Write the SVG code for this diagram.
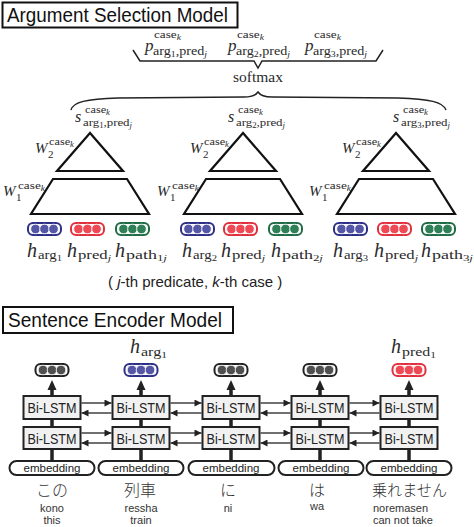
<svg xmlns="http://www.w3.org/2000/svg" xmlns:xlink="http://www.w3.org/1999/xlink" width="474" height="527" viewBox="0 0 474 527">
<style>
.bg{fill:#fff}
.tbox{fill:#fff;stroke:#111;stroke-width:2}
.title{font-family:"Liberation Sans",Arial,sans-serif;font-size:20px;fill:#111}
.sans{font-family:"Liberation Sans",Arial,sans-serif;fill:#222}
.bl{font-size:15.5px}
.m{font-family:"Liberation Serif","Times New Roman",serif;fill:#2a2a2a}
.mi{font-style:italic}
.tri{fill:none;stroke:#111;stroke-width:2.2;stroke-linejoin:miter}
.brace{fill:none;stroke:#222;stroke-width:1.5}
.vr{fill:#fff;stroke-width:2}
.vc{stroke:#fff;stroke-width:0.8}
.lstm{fill:#f1f1f1;stroke:#222;stroke-width:2}
.emb{fill:#fff;stroke:#222;stroke-width:2}
.vert{stroke:#222;stroke-width:3.5;fill:none}
.harr{stroke:#222;stroke-width:1.3;fill:none;marker-end:url(#ah)}
.jp{font-family:"Noto Sans CJK JP",sans-serif;font-size:16px;fill:#333;font-weight:300}
.rom{font-family:"Liberation Sans",Arial,sans-serif;font-size:11px;fill:#333}
</style>
<defs>
<marker id="ah" viewBox="0 0 10 10" refX="10" refY="5" markerUnits="userSpaceOnUse" markerWidth="8" markerHeight="7" orient="auto"><path d="M0,0 L10,5 L0,10 z" fill="#222"/></marker>
<g id="vecB"><rect class="vr" x="1" y="1" width="33" height="12" rx="5" stroke="#2d2f86"/><circle class="vc" cx="8.5" cy="7" r="4.8" fill="#5557a6"/><circle class="vc" cx="17.5" cy="7" r="4.8" fill="#5557a6"/><circle class="vc" cx="26.5" cy="7" r="4.8" fill="#5557a6"/></g>
<g id="vecR"><rect class="vr" x="1" y="1" width="33" height="12" rx="5" stroke="#e0303e"/><circle class="vc" cx="8.5" cy="7" r="4.8" fill="#ee4a56"/><circle class="vc" cx="17.5" cy="7" r="4.8" fill="#ee4a56"/><circle class="vc" cx="26.5" cy="7" r="4.8" fill="#ee4a56"/></g>
<g id="vecGr"><rect class="vr" x="1" y="1" width="33" height="12" rx="5" stroke="#1e6b45"/><circle class="vc" cx="8.5" cy="7" r="4.8" fill="#2f7f57"/><circle class="vc" cx="17.5" cy="7" r="4.8" fill="#2f7f57"/><circle class="vc" cx="26.5" cy="7" r="4.8" fill="#2f7f57"/></g>
<g id="vecK"><rect class="vr" x="1" y="1" width="33" height="12" rx="5" stroke="#222"/><circle class="vc" cx="8.5" cy="7" r="4.8" fill="#505050"/><circle class="vc" cx="17.5" cy="7" r="4.8" fill="#505050"/><circle class="vc" cx="26.5" cy="7" r="4.8" fill="#505050"/></g>
</defs>
<rect class="bg" x="0" y="0" width="474" height="527"/>

<!-- Argument Selection Model -->
<g id="title-asm">
<rect class="tbox" x="2.5" y="2.5" width="235" height="25"/>
<text class="title" x="7" y="22" textLength="221" lengthAdjust="spacingAndGlyphs">Argument Selection Model</text>
</g>

<g id="p-labels">
<text class="m mi" x="145" y="51" font-size="17">p</text>
<text class="m" x="154" y="38" font-size="11" textLength="27" lengthAdjust="spacingAndGlyphs">case<tspan class="mi" font-size="8" dy="2">k</tspan></text>
<text class="m" x="153" y="55" font-size="11.5" textLength="54" lengthAdjust="spacingAndGlyphs">arg<tspan font-size="8" dy="2">1</tspan><tspan dy="-2">,pred</tspan><tspan class="mi" font-size="8" dy="2">j</tspan></text>
<text class="m mi" x="228" y="51" font-size="17">p</text>
<text class="m" x="237" y="38" font-size="11" textLength="27" lengthAdjust="spacingAndGlyphs">case<tspan class="mi" font-size="8" dy="2">k</tspan></text>
<text class="m" x="236" y="55" font-size="11.5" textLength="54" lengthAdjust="spacingAndGlyphs">arg<tspan font-size="8" dy="2">2</tspan><tspan dy="-2">,pred</tspan><tspan class="mi" font-size="8" dy="2">j</tspan></text>
<text class="m mi" x="305" y="51" font-size="17">p</text>
<text class="m" x="314" y="38" font-size="11" textLength="27" lengthAdjust="spacingAndGlyphs">case<tspan class="mi" font-size="8" dy="2">k</tspan></text>
<text class="m" x="313" y="55" font-size="11.5" textLength="54" lengthAdjust="spacingAndGlyphs">arg<tspan font-size="8" dy="2">3</tspan><tspan dy="-2">,pred</tspan><tspan class="mi" font-size="8" dy="2">j</tspan></text>
</g>

<g id="softmax">
<path class="brace" d="M133,50 L140,61 L254,61 L258,68 L262,61 L376,61 L383,50"/>
<text class="m" x="258" y="82" font-size="15" text-anchor="middle" textLength="50" lengthAdjust="spacingAndGlyphs">softmax</text>
<path class="brace" d="M71,110 C73,102 86,99 118,98 L244,97 C252,97 256,95 258,92 C260,95 264,97 272,97 L398,98 C430,99 443,102 446,110"/>
</g>

<!-- network 1 -->
<g id="net1">
<text class="m mi" x="75" y="122" font-size="16">s</text>
<text class="m" x="85" y="113" font-size="10.5" textLength="25" lengthAdjust="spacingAndGlyphs">case<tspan class="mi" font-size="7.5" dy="2">k</tspan></text>
<text class="m" x="83" y="126" font-size="11" textLength="49" lengthAdjust="spacingAndGlyphs">arg<tspan font-size="7.5" dy="2">1</tspan><tspan dy="-2">,pred</tspan><tspan class="mi" font-size="7.5" dy="2">j</tspan></text>
<polygon class="tri" points="90,133 57,171 123,171"/>
<polygon class="tri" points="53,179 127,179 149,214 31,214"/>
<text class="m mi" x="35" y="153" font-size="15">W</text>
<text class="m" x="49" y="145" font-size="10.5" textLength="25" lengthAdjust="spacingAndGlyphs">case<tspan class="mi" font-size="7.5" dy="2">k</tspan></text>
<text class="m" x="48" y="158" font-size="11">2</text>
<text class="m mi" x="3" y="196" font-size="15">W</text>
<text class="m" x="18" y="189" font-size="10.5" textLength="27" lengthAdjust="spacingAndGlyphs">case<tspan class="mi" font-size="7.5" dy="2">k</tspan></text>
<text class="m" x="16" y="201" font-size="11">1</text>
<use href="#vecB" x="27" y="222"/>
<use href="#vecR" x="70" y="222"/>
<use href="#vecGr" x="115" y="222"/>
<text class="m mi" x="27" y="257" font-size="20">h</text>
<text class="m" x="38" y="259" font-size="12.5" textLength="24" lengthAdjust="spacingAndGlyphs">arg<tspan font-size="9" dy="2">1</tspan></text>
<text class="m mi" x="67" y="257" font-size="20">h</text>
<text class="m" x="78" y="259" font-size="12.5" textLength="33" lengthAdjust="spacingAndGlyphs">pred<tspan class="mi" font-size="9" dy="2">j</tspan></text>
<text class="m mi" x="115" y="257" font-size="20">h</text>
<text class="m" x="126" y="259" font-size="12.5" textLength="41" lengthAdjust="spacingAndGlyphs">path<tspan font-size="9" dy="2">1</tspan><tspan class="mi" font-size="9">j</tspan></text>
</g>

<!-- network 2 -->
<g id="net2">
<text class="m mi" x="228" y="122" font-size="16">s</text>
<text class="m" x="238" y="113" font-size="10.5" textLength="25" lengthAdjust="spacingAndGlyphs">case<tspan class="mi" font-size="7.5" dy="2">k</tspan></text>
<text class="m" x="236" y="126" font-size="11" textLength="49" lengthAdjust="spacingAndGlyphs">arg<tspan font-size="7.5" dy="2">2</tspan><tspan dy="-2">,pred</tspan><tspan class="mi" font-size="7.5" dy="2">j</tspan></text>
<polygon class="tri" points="243,133 210,171 276,171"/>
<polygon class="tri" points="206,179 280,179 302,214 184,214"/>
<text class="m mi" x="190" y="153" font-size="15">W</text>
<text class="m" x="204" y="145" font-size="10.5" textLength="25" lengthAdjust="spacingAndGlyphs">case<tspan class="mi" font-size="7.5" dy="2">k</tspan></text>
<text class="m" x="203" y="158" font-size="11">2</text>
<text class="m mi" x="157" y="196" font-size="15">W</text>
<text class="m" x="172" y="189" font-size="10.5" textLength="27" lengthAdjust="spacingAndGlyphs">case<tspan class="mi" font-size="7.5" dy="2">k</tspan></text>
<text class="m" x="170" y="201" font-size="11">1</text>
<use href="#vecB" x="180" y="222"/>
<use href="#vecR" x="223" y="222"/>
<use href="#vecGr" x="268" y="222"/>
<text class="m mi" x="182" y="257" font-size="20">h</text>
<text class="m" x="193" y="259" font-size="12.5" textLength="24" lengthAdjust="spacingAndGlyphs">arg<tspan font-size="9" dy="2">2</tspan></text>
<text class="m mi" x="221" y="257" font-size="20">h</text>
<text class="m" x="232" y="259" font-size="12.5" textLength="33" lengthAdjust="spacingAndGlyphs">pred<tspan class="mi" font-size="9" dy="2">j</tspan></text>
<text class="m mi" x="271" y="257" font-size="20">h</text>
<text class="m" x="282" y="259" font-size="12.5" textLength="41" lengthAdjust="spacingAndGlyphs">path<tspan font-size="9" dy="2">2</tspan><tspan class="mi" font-size="9">j</tspan></text>
</g>

<!-- network 3 -->
<g id="net3">
<text class="m mi" x="393" y="122" font-size="16">s</text>
<text class="m" x="403" y="113" font-size="10.5" textLength="25" lengthAdjust="spacingAndGlyphs">case<tspan class="mi" font-size="7.5" dy="2">k</tspan></text>
<text class="m" x="401" y="126" font-size="11" textLength="49" lengthAdjust="spacingAndGlyphs">arg<tspan font-size="7.5" dy="2">3</tspan><tspan dy="-2">,pred</tspan><tspan class="mi" font-size="7.5" dy="2">j</tspan></text>
<polygon class="tri" points="396,133 363,171 429,171"/>
<polygon class="tri" points="359,179 433,179 455,214 337,214"/>
<text class="m mi" x="342" y="153" font-size="15">W</text>
<text class="m" x="356" y="145" font-size="10.5" textLength="25" lengthAdjust="spacingAndGlyphs">case<tspan class="mi" font-size="7.5" dy="2">k</tspan></text>
<text class="m" x="355" y="158" font-size="11">2</text>
<text class="m mi" x="309" y="196" font-size="15">W</text>
<text class="m" x="324" y="189" font-size="10.5" textLength="27" lengthAdjust="spacingAndGlyphs">case<tspan class="mi" font-size="7.5" dy="2">k</tspan></text>
<text class="m" x="322" y="201" font-size="11">1</text>
<use href="#vecB" x="333" y="222"/>
<use href="#vecR" x="377" y="222"/>
<use href="#vecGr" x="421" y="222"/>
<text class="m mi" x="333" y="257" font-size="20">h</text>
<text class="m" x="344" y="259" font-size="12.5" textLength="24" lengthAdjust="spacingAndGlyphs">arg<tspan font-size="9" dy="2">3</tspan></text>
<text class="m mi" x="374" y="257" font-size="20">h</text>
<text class="m" x="385" y="259" font-size="12.5" textLength="33" lengthAdjust="spacingAndGlyphs">pred<tspan class="mi" font-size="9" dy="2">j</tspan></text>
<text class="m mi" x="421" y="257" font-size="20">h</text>
<text class="m" x="432" y="259" font-size="12.5" textLength="41" lengthAdjust="spacingAndGlyphs">path<tspan font-size="9" dy="2">3</tspan><tspan class="mi" font-size="9">j</tspan></text>
</g>

<g id="caption">
<text class="sans" x="108" y="287" font-size="15">( <tspan font-style="italic">j</tspan>-th predicate, <tspan font-style="italic">k</tspan>-th case )</text>
</g>

<!-- Sentence Encoder Model -->
<g id="title-sem">
<rect class="tbox" x="3" y="307" width="230" height="26"/>
<text class="title" x="8" y="327" textLength="214" lengthAdjust="spacingAndGlyphs">Sentence Encoder Model</text>
</g>

<g id="connectors">
<path class="vert" d="M52,461V449M52,427V419M52,396V389M141,461V449M141,427V419M141,396V389M231,461V449M231,427V419M231,396V389M320,461V449M320,427V419M320,396V389M409,461V449M409,427V419M409,396V389"/>
<g fill="#222">
<polygon points="47.5,390 56.5,390 52,380"/>
<polygon points="136.5,390 145.5,390 141,380"/>
<polygon points="226.5,390 235.5,390 231,380"/>
<polygon points="315.5,390 324.5,390 320,380"/>
<polygon points="404.5,390 413.5,390 409,380"/>
</g>
<path class="harr" d="M81.5,403H111.5"/><path class="harr" d="M111.5,413H81.5"/>
<path class="harr" d="M81.5,433H111.5"/><path class="harr" d="M111.5,443H81.5"/>
<path class="harr" d="M170.5,403H201.5"/><path class="harr" d="M201.5,413H170.5"/>
<path class="harr" d="M170.5,433H201.5"/><path class="harr" d="M201.5,443H170.5"/>
<path class="harr" d="M260.5,403H290.5"/><path class="harr" d="M290.5,413H260.5"/>
<path class="harr" d="M260.5,433H290.5"/><path class="harr" d="M290.5,443H260.5"/>
<path class="harr" d="M349.5,403H379.5"/><path class="harr" d="M379.5,413H349.5"/>
<path class="harr" d="M349.5,433H379.5"/><path class="harr" d="M379.5,443H349.5"/>
</g>

<g id="col1">
<use href="#vecK" x="34.5" y="363"/>
<rect class="lstm" x="23.5" y="396" width="57" height="23"/>
<text class="sans bl" x="52" y="413" text-anchor="middle" textLength="49" lengthAdjust="spacingAndGlyphs">Bi-LSTM</text>
<rect class="lstm" x="23.5" y="427" width="57" height="22"/>
<text class="sans bl" x="52" y="443.5" text-anchor="middle" textLength="49" lengthAdjust="spacingAndGlyphs">Bi-LSTM</text>
<rect class="emb" x="9.5" y="461" width="85" height="14" rx="7"/>
<text class="sans" x="52" y="471.5" font-size="11.5" text-anchor="middle">embedding</text>
<text class="jp" x="52" y="496" text-anchor="middle">この</text>
<text class="rom" x="52" y="511.5" text-anchor="middle">kono</text>
<text class="rom" x="52" y="523.5" text-anchor="middle">this</text>
</g>

<g id="col2">
<text class="m mi" x="130" y="353" font-size="20">h</text>
<text class="m" x="141" y="356" font-size="12.5" textLength="26" lengthAdjust="spacingAndGlyphs">arg<tspan font-size="9" dy="2">1</tspan></text>
<use href="#vecB" x="123.5" y="363"/>
<rect class="lstm" x="112.5" y="396" width="57" height="23"/>
<text class="sans bl" x="141" y="413" text-anchor="middle" textLength="49" lengthAdjust="spacingAndGlyphs">Bi-LSTM</text>
<rect class="lstm" x="112.5" y="427" width="57" height="22"/>
<text class="sans bl" x="141" y="443.5" text-anchor="middle" textLength="49" lengthAdjust="spacingAndGlyphs">Bi-LSTM</text>
<rect class="emb" x="98.5" y="461" width="85" height="14" rx="7"/>
<text class="sans" x="141" y="471.5" font-size="11.5" text-anchor="middle">embedding</text>
<text class="jp" x="140" y="496" text-anchor="middle">列車</text>
<text class="rom" x="141" y="511.5" text-anchor="middle">ressha</text>
<text class="rom" x="141" y="523.5" text-anchor="middle">train</text>
</g>

<g id="col3">
<use href="#vecK" x="213.5" y="363"/>
<rect class="lstm" x="202.5" y="396" width="57" height="23"/>
<text class="sans bl" x="231" y="413" text-anchor="middle" textLength="49" lengthAdjust="spacingAndGlyphs">Bi-LSTM</text>
<rect class="lstm" x="202.5" y="427" width="57" height="22"/>
<text class="sans bl" x="231" y="443.5" text-anchor="middle" textLength="49" lengthAdjust="spacingAndGlyphs">Bi-LSTM</text>
<rect class="emb" x="188.5" y="461" width="86" height="14" rx="7"/>
<text class="sans" x="231" y="471.5" font-size="11.5" text-anchor="middle">embedding</text>
<text class="jp" x="228" y="496" text-anchor="middle">に</text>
<text class="rom" x="228" y="511.5" text-anchor="middle">ni</text>
</g>

<g id="col4">
<use href="#vecK" x="302.5" y="363"/>
<rect class="lstm" x="291.5" y="396" width="57" height="23"/>
<text class="sans bl" x="320" y="413" text-anchor="middle" textLength="49" lengthAdjust="spacingAndGlyphs">Bi-LSTM</text>
<rect class="lstm" x="291.5" y="427" width="57" height="22"/>
<text class="sans bl" x="320" y="443.5" text-anchor="middle" textLength="49" lengthAdjust="spacingAndGlyphs">Bi-LSTM</text>
<rect class="emb" x="278.5" y="461" width="85" height="14" rx="7"/>
<text class="sans" x="321" y="471.5" font-size="11.5" text-anchor="middle">embedding</text>
<text class="jp" x="317" y="496" text-anchor="middle">は</text>
<text class="rom" x="317" y="510" text-anchor="middle">wa</text>
</g>

<g id="col5">
<text class="m mi" x="391" y="353" font-size="20">h</text>
<text class="m" x="402" y="356" font-size="12.5" textLength="34" lengthAdjust="spacingAndGlyphs">pred<tspan font-size="9" dy="2">1</tspan></text>
<use href="#vecR" x="391.5" y="363"/>
<rect class="lstm" x="380.5" y="396" width="57" height="23"/>
<text class="sans bl" x="409" y="413" text-anchor="middle" textLength="49" lengthAdjust="spacingAndGlyphs">Bi-LSTM</text>
<rect class="lstm" x="380.5" y="427" width="57" height="22"/>
<text class="sans bl" x="409" y="443.5" text-anchor="middle" textLength="49" lengthAdjust="spacingAndGlyphs">Bi-LSTM</text>
<rect class="emb" x="366.5" y="461" width="85" height="14" rx="7"/>
<text class="sans" x="409" y="471.5" font-size="11.5" text-anchor="middle">embedding</text>
<text class="jp" x="372" y="496" textLength="75" lengthAdjust="spacingAndGlyphs">乗れません</text>
<text class="rom" x="373" y="511.5">noremasen</text>
<text class="rom" x="373" y="523.5">can not take</text>
</g>
</svg>
